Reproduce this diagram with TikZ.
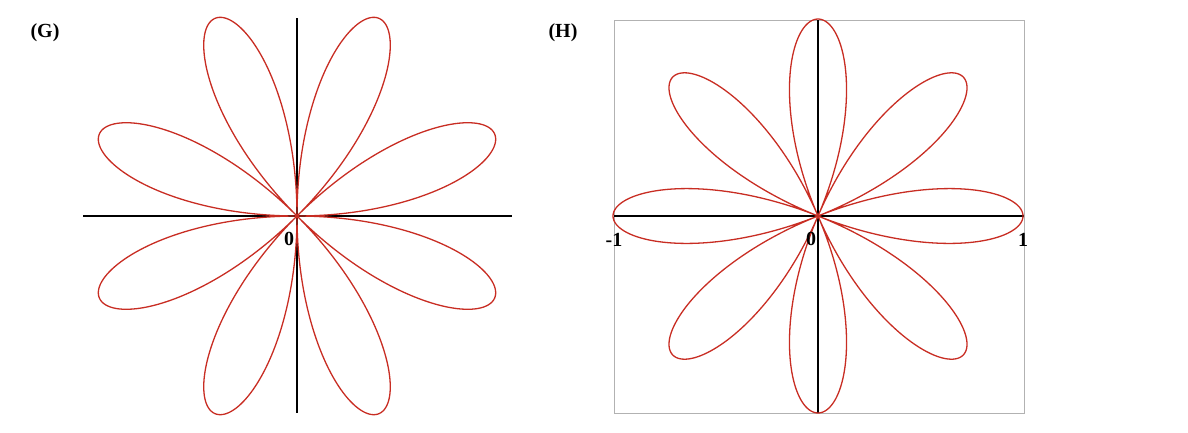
\documentclass[tikz,border=0pt]{standalone}
\usepackage{fontspec}
\setmainfont{Liberation Serif}
\definecolor{rosered}{RGB}{200,45,35}
\begin{document}
\begin{tikzpicture}[x=1pt,y=-1pt,
  curve/.style={rosered,line width=1.3pt},
  axis/.style={black,line width=1.3pt},
  lbl/.style={font=\bfseries\fontsize{20}{20}\selectfont,inner sep=0pt}]
\useasboundingbox (0,0) rectangle (1188,432);
% G
\coordinate (gc) at (297,216);
\draw[axis] (83,216) -- (512,216);
\draw[axis] (297,18) -- (297,413);
\draw[curve,shift={(gc)}] plot[domain=0:360,samples=720,smooth] ({214*sin(4*\x)*cos(\x)},{214*sin(4*\x)*sin(\x)});
\node[lbl] (G) at (45,33) {(G)};
\node[lbl] (g0) at (289,239) {0};
% H
\draw[gray!60,line width=0.8pt] (614,20) rectangle (1024,413);
\coordinate (hc) at (818,216);
\draw[axis] (614,216) -- (1024,216);
\draw[axis] (818,20) -- (818,413);
\draw[curve,shift={(hc)}] plot[domain=0:360,samples=720,smooth] ({205*cos(4*\x)*cos(\x)},{197*cos(4*\x)*sin(\x)});
\node[lbl] (H) at (563,33) {(H)};
\node[lbl] (h0) at (811,239) {0};
\node[lbl] (hm) at (614,240) {-1};
\node[lbl] (hp) at (1023,240) {1};
\end{tikzpicture}
\end{document}
